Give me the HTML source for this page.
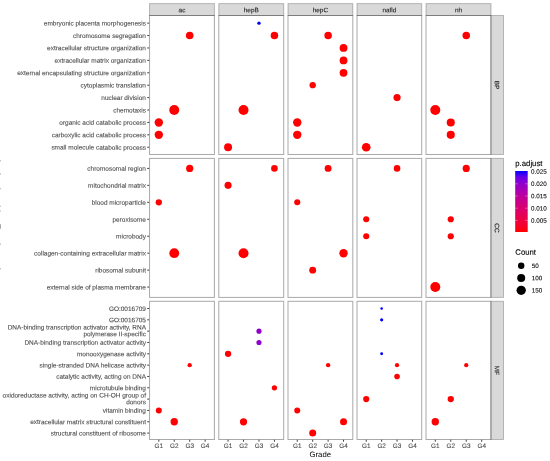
<!DOCTYPE html>
<html><head><meta charset="utf-8"><title>dotplot</title>
<style>html,body{margin:0;padding:0;background:#fff}svg{display:block}</style></head>
<body>
<svg width="550" height="461" viewBox="0 0 550 461" font-family="'Liberation Sans', sans-serif" text-rendering="geometricPrecision">
<rect width="550" height="461" fill="#fff"/>
<defs><filter id="soft" x="0" y="0" width="100%" height="100%" filterUnits="objectBoundingBox"><feGaussianBlur stdDeviation="0.3"/></filter></defs>
<g filter="url(#soft)">
<rect width="550" height="461" fill="#fff"/>
<rect x="149.55" y="3.6" width="64.85" height="11.90" fill="#d9d9d9" stroke="#333" stroke-opacity="0.30" stroke-width="1"/>
<text transform="translate(181.98,12.15) rotate(0.03)" font-size="6.4" fill="#1a1a1a" stroke="#1a1a1a" stroke-width="0.1" text-anchor="middle">ac</text>
<rect x="218.80" y="3.6" width="64.90" height="11.90" fill="#d9d9d9" stroke="#333" stroke-opacity="0.30" stroke-width="1"/>
<text transform="translate(251.25,12.15) rotate(0.03)" font-size="6.4" fill="#1a1a1a" stroke="#1a1a1a" stroke-width="0.1" text-anchor="middle">hepB</text>
<rect x="288.00" y="3.6" width="64.80" height="11.90" fill="#d9d9d9" stroke="#333" stroke-opacity="0.30" stroke-width="1"/>
<text transform="translate(320.40,12.15) rotate(0.03)" font-size="6.4" fill="#1a1a1a" stroke="#1a1a1a" stroke-width="0.1" text-anchor="middle">hepC</text>
<rect x="357.00" y="3.6" width="64.70" height="11.90" fill="#d9d9d9" stroke="#333" stroke-opacity="0.30" stroke-width="1"/>
<text transform="translate(389.35,12.15) rotate(0.03)" font-size="6.4" fill="#1a1a1a" stroke="#1a1a1a" stroke-width="0.1" text-anchor="middle">nafld</text>
<rect x="426.00" y="3.6" width="65.00" height="11.90" fill="#d9d9d9" stroke="#333" stroke-opacity="0.30" stroke-width="1"/>
<text transform="translate(458.50,12.15) rotate(0.03)" font-size="6.4" fill="#1a1a1a" stroke="#1a1a1a" stroke-width="0.1" text-anchor="middle">nh</text>
<rect x="149.55" y="15.5" width="64.85" height="139.00" fill="none" stroke="#333" stroke-opacity="0.42" stroke-width="1"/>
<rect x="218.80" y="15.5" width="64.90" height="139.00" fill="none" stroke="#333" stroke-opacity="0.42" stroke-width="1"/>
<rect x="288.00" y="15.5" width="64.80" height="139.00" fill="none" stroke="#333" stroke-opacity="0.42" stroke-width="1"/>
<rect x="357.00" y="15.5" width="64.70" height="139.00" fill="none" stroke="#333" stroke-opacity="0.42" stroke-width="1"/>
<rect x="426.00" y="15.5" width="65.00" height="139.00" fill="none" stroke="#333" stroke-opacity="0.42" stroke-width="1"/>
<rect x="491.0" y="15.5" width="12.50" height="139.00" fill="#d9d9d9" stroke="#333" stroke-opacity="0.30" stroke-width="1"/>
<line x1="491.1" x2="491.1" y1="15.5" y2="154.5" stroke="#333" stroke-opacity="0.28" stroke-width="0.9"/>
<text transform="translate(494.75,85.00) rotate(90.03)" font-size="6.4" fill="#1a1a1a" stroke="#1a1a1a" stroke-width="0.1" text-anchor="middle">BP</text>
<line x1="147.25" x2="149.15" y1="23.15" y2="23.15" stroke="#333333" stroke-width="0.95"/>
<text transform="translate(145.95,25.55) rotate(0.03)" font-size="6.47" fill="#4d4d4d" stroke="#4d4d4d" stroke-width="0.1" text-anchor="end">embryonic placenta morphogenesis</text>
<line x1="147.25" x2="149.15" y1="35.56" y2="35.56" stroke="#333333" stroke-width="0.95"/>
<text transform="translate(145.95,37.96) rotate(0.03)" font-size="6.47" fill="#4d4d4d" stroke="#4d4d4d" stroke-width="0.1" text-anchor="end">chromosome segregation</text>
<line x1="147.25" x2="149.15" y1="47.97" y2="47.97" stroke="#333333" stroke-width="0.95"/>
<text transform="translate(145.95,50.37) rotate(0.03)" font-size="6.47" fill="#4d4d4d" stroke="#4d4d4d" stroke-width="0.1" text-anchor="end">extracellular structure organization</text>
<line x1="147.25" x2="149.15" y1="60.38" y2="60.38" stroke="#333333" stroke-width="0.95"/>
<text transform="translate(145.95,62.78) rotate(0.03)" font-size="6.47" fill="#4d4d4d" stroke="#4d4d4d" stroke-width="0.1" text-anchor="end">extracellular matrix organization</text>
<line x1="147.25" x2="149.15" y1="72.79" y2="72.79" stroke="#333333" stroke-width="0.95"/>
<text transform="translate(145.95,75.19) rotate(0.03)" font-size="6.47" fill="#4d4d4d" stroke="#4d4d4d" stroke-width="0.1" text-anchor="end">external encapsulating structure organization</text>
<line x1="147.25" x2="149.15" y1="85.20" y2="85.20" stroke="#333333" stroke-width="0.95"/>
<text transform="translate(145.95,87.60) rotate(0.03)" font-size="6.47" fill="#4d4d4d" stroke="#4d4d4d" stroke-width="0.1" text-anchor="end">cytoplasmic translation</text>
<line x1="147.25" x2="149.15" y1="97.61" y2="97.61" stroke="#333333" stroke-width="0.95"/>
<text transform="translate(145.95,100.01) rotate(0.03)" font-size="6.47" fill="#4d4d4d" stroke="#4d4d4d" stroke-width="0.1" text-anchor="end">nuclear division</text>
<line x1="147.25" x2="149.15" y1="110.02" y2="110.02" stroke="#333333" stroke-width="0.95"/>
<text transform="translate(145.95,112.42) rotate(0.03)" font-size="6.47" fill="#4d4d4d" stroke="#4d4d4d" stroke-width="0.1" text-anchor="end">chemotaxis</text>
<line x1="147.25" x2="149.15" y1="122.43" y2="122.43" stroke="#333333" stroke-width="0.95"/>
<text transform="translate(145.95,124.83) rotate(0.03)" font-size="6.47" fill="#4d4d4d" stroke="#4d4d4d" stroke-width="0.1" text-anchor="end">organic acid catabolic process</text>
<line x1="147.25" x2="149.15" y1="134.84" y2="134.84" stroke="#333333" stroke-width="0.95"/>
<text transform="translate(145.95,137.24) rotate(0.03)" font-size="6.47" fill="#4d4d4d" stroke="#4d4d4d" stroke-width="0.1" text-anchor="end">carboxylic acid catabolic process</text>
<line x1="147.25" x2="149.15" y1="147.25" y2="147.25" stroke="#333333" stroke-width="0.95"/>
<text transform="translate(145.95,149.65) rotate(0.03)" font-size="6.47" fill="#4d4d4d" stroke="#4d4d4d" stroke-width="0.1" text-anchor="end">small molecule catabolic process</text>
<rect x="149.55" y="158.4" width="64.85" height="139.00" fill="none" stroke="#333" stroke-opacity="0.42" stroke-width="1"/>
<rect x="218.80" y="158.4" width="64.90" height="139.00" fill="none" stroke="#333" stroke-opacity="0.42" stroke-width="1"/>
<rect x="288.00" y="158.4" width="64.80" height="139.00" fill="none" stroke="#333" stroke-opacity="0.42" stroke-width="1"/>
<rect x="357.00" y="158.4" width="64.70" height="139.00" fill="none" stroke="#333" stroke-opacity="0.42" stroke-width="1"/>
<rect x="426.00" y="158.4" width="65.00" height="139.00" fill="none" stroke="#333" stroke-opacity="0.42" stroke-width="1"/>
<rect x="491.0" y="158.4" width="12.50" height="139.00" fill="#d9d9d9" stroke="#333" stroke-opacity="0.30" stroke-width="1"/>
<line x1="491.1" x2="491.1" y1="158.4" y2="297.4" stroke="#333" stroke-opacity="0.28" stroke-width="0.9"/>
<text transform="translate(494.75,227.90) rotate(90.03)" font-size="6.4" fill="#1a1a1a" stroke="#1a1a1a" stroke-width="0.1" text-anchor="middle">CC</text>
<line x1="147.25" x2="149.15" y1="168.42" y2="168.42" stroke="#333333" stroke-width="0.95"/>
<text transform="translate(145.95,170.82) rotate(0.03)" font-size="6.47" fill="#4d4d4d" stroke="#4d4d4d" stroke-width="0.1" text-anchor="end">chromosomal region</text>
<line x1="147.25" x2="149.15" y1="185.37" y2="185.37" stroke="#333333" stroke-width="0.95"/>
<text transform="translate(145.95,187.77) rotate(0.03)" font-size="6.47" fill="#4d4d4d" stroke="#4d4d4d" stroke-width="0.1" text-anchor="end">mitochondrial matrix</text>
<line x1="147.25" x2="149.15" y1="202.32" y2="202.32" stroke="#333333" stroke-width="0.95"/>
<text transform="translate(145.95,204.72) rotate(0.03)" font-size="6.47" fill="#4d4d4d" stroke="#4d4d4d" stroke-width="0.1" text-anchor="end">blood microparticle</text>
<line x1="147.25" x2="149.15" y1="219.27" y2="219.27" stroke="#333333" stroke-width="0.95"/>
<text transform="translate(145.95,221.67) rotate(0.03)" font-size="6.47" fill="#4d4d4d" stroke="#4d4d4d" stroke-width="0.1" text-anchor="end">peroxisome</text>
<line x1="147.25" x2="149.15" y1="236.23" y2="236.23" stroke="#333333" stroke-width="0.95"/>
<text transform="translate(145.95,238.63) rotate(0.03)" font-size="6.47" fill="#4d4d4d" stroke="#4d4d4d" stroke-width="0.1" text-anchor="end">microbody</text>
<line x1="147.25" x2="149.15" y1="253.18" y2="253.18" stroke="#333333" stroke-width="0.95"/>
<text transform="translate(145.95,255.58) rotate(0.03)" font-size="6.47" fill="#4d4d4d" stroke="#4d4d4d" stroke-width="0.1" text-anchor="end">collagen-containing extracellular matrix</text>
<line x1="147.25" x2="149.15" y1="270.13" y2="270.13" stroke="#333333" stroke-width="0.95"/>
<text transform="translate(145.95,272.53) rotate(0.03)" font-size="6.47" fill="#4d4d4d" stroke="#4d4d4d" stroke-width="0.1" text-anchor="end">ribosomal subunit</text>
<line x1="147.25" x2="149.15" y1="287.08" y2="287.08" stroke="#333333" stroke-width="0.95"/>
<text transform="translate(145.95,289.48) rotate(0.03)" font-size="6.47" fill="#4d4d4d" stroke="#4d4d4d" stroke-width="0.1" text-anchor="end">external side of plasma membrane</text>
<rect x="149.55" y="301.3" width="64.85" height="138.20" fill="none" stroke="#333" stroke-opacity="0.42" stroke-width="1"/>
<rect x="218.80" y="301.3" width="64.90" height="138.20" fill="none" stroke="#333" stroke-opacity="0.42" stroke-width="1"/>
<rect x="288.00" y="301.3" width="64.80" height="138.20" fill="none" stroke="#333" stroke-opacity="0.42" stroke-width="1"/>
<rect x="357.00" y="301.3" width="64.70" height="138.20" fill="none" stroke="#333" stroke-opacity="0.42" stroke-width="1"/>
<rect x="426.00" y="301.3" width="65.00" height="138.20" fill="none" stroke="#333" stroke-opacity="0.42" stroke-width="1"/>
<rect x="491.0" y="301.3" width="12.50" height="138.20" fill="#d9d9d9" stroke="#333" stroke-opacity="0.30" stroke-width="1"/>
<line x1="491.1" x2="491.1" y1="301.3" y2="439.5" stroke="#333" stroke-opacity="0.28" stroke-width="0.9"/>
<text transform="translate(494.75,370.40) rotate(90.03)" font-size="6.4" fill="#1a1a1a" stroke="#1a1a1a" stroke-width="0.1" text-anchor="middle">MF</text>
<line x1="147.25" x2="149.15" y1="308.50" y2="308.50" stroke="#333333" stroke-width="0.95"/>
<text transform="translate(145.95,310.90) rotate(0.03)" font-size="6.47" fill="#4d4d4d" stroke="#4d4d4d" stroke-width="0.1" text-anchor="end">GO:0016709</text>
<line x1="147.25" x2="149.15" y1="319.82" y2="319.82" stroke="#333333" stroke-width="0.95"/>
<text transform="translate(145.95,322.22) rotate(0.03)" font-size="6.47" fill="#4d4d4d" stroke="#4d4d4d" stroke-width="0.1" text-anchor="end">GO:0016705</text>
<line x1="147.25" x2="149.15" y1="331.15" y2="331.15" stroke="#333333" stroke-width="0.95"/>
<text transform="translate(145.95,329.50) rotate(0.03)" font-size="6.47" fill="#4d4d4d" stroke="#4d4d4d" stroke-width="0.1" text-anchor="end">DNA-binding transcription activator activity, RNA</text>
<text transform="translate(145.95,336.30) rotate(0.03)" font-size="6.47" fill="#4d4d4d" stroke="#4d4d4d" stroke-width="0.1" text-anchor="end">polymerase II-specific</text>
<line x1="147.25" x2="149.15" y1="342.48" y2="342.48" stroke="#333333" stroke-width="0.95"/>
<text transform="translate(145.95,344.88) rotate(0.03)" font-size="6.47" fill="#4d4d4d" stroke="#4d4d4d" stroke-width="0.1" text-anchor="end">DNA-binding transcription activator activity</text>
<line x1="147.25" x2="149.15" y1="353.81" y2="353.81" stroke="#333333" stroke-width="0.95"/>
<text transform="translate(145.95,356.21) rotate(0.03)" font-size="6.47" fill="#4d4d4d" stroke="#4d4d4d" stroke-width="0.1" text-anchor="end">monooxygenase activity</text>
<line x1="147.25" x2="149.15" y1="365.14" y2="365.14" stroke="#333333" stroke-width="0.95"/>
<text transform="translate(145.95,367.54) rotate(0.03)" font-size="6.47" fill="#4d4d4d" stroke="#4d4d4d" stroke-width="0.1" text-anchor="end">single-stranded DNA helicase activity</text>
<line x1="147.25" x2="149.15" y1="376.46" y2="376.46" stroke="#333333" stroke-width="0.95"/>
<text transform="translate(145.95,378.86) rotate(0.03)" font-size="6.47" fill="#4d4d4d" stroke="#4d4d4d" stroke-width="0.1" text-anchor="end">catalytic activity, acting on DNA</text>
<line x1="147.25" x2="149.15" y1="387.79" y2="387.79" stroke="#333333" stroke-width="0.95"/>
<text transform="translate(145.95,390.19) rotate(0.03)" font-size="6.47" fill="#4d4d4d" stroke="#4d4d4d" stroke-width="0.1" text-anchor="end">microtubule binding</text>
<line x1="147.25" x2="149.15" y1="399.12" y2="399.12" stroke="#333333" stroke-width="0.95"/>
<text transform="translate(145.95,397.47) rotate(0.03)" font-size="6.47" fill="#4d4d4d" stroke="#4d4d4d" stroke-width="0.1" text-anchor="end">oxidoreductase activity, acting on CH-OH group of</text>
<text transform="translate(145.95,404.27) rotate(0.03)" font-size="6.47" fill="#4d4d4d" stroke="#4d4d4d" stroke-width="0.1" text-anchor="end">donors</text>
<line x1="147.25" x2="149.15" y1="410.45" y2="410.45" stroke="#333333" stroke-width="0.95"/>
<text transform="translate(145.95,412.85) rotate(0.03)" font-size="6.47" fill="#4d4d4d" stroke="#4d4d4d" stroke-width="0.1" text-anchor="end">vitamin binding</text>
<line x1="147.25" x2="149.15" y1="421.78" y2="421.78" stroke="#333333" stroke-width="0.95"/>
<text transform="translate(145.95,424.18) rotate(0.03)" font-size="6.47" fill="#4d4d4d" stroke="#4d4d4d" stroke-width="0.1" text-anchor="end">extracellular matrix structural constituent</text>
<line x1="147.25" x2="149.15" y1="433.10" y2="433.10" stroke="#333333" stroke-width="0.95"/>
<text transform="translate(145.95,435.50) rotate(0.03)" font-size="6.47" fill="#4d4d4d" stroke="#4d4d4d" stroke-width="0.1" text-anchor="end">structural constituent of ribosome</text>
<line x1="158.81" x2="158.81" y1="439.80" y2="441.70" stroke="#333333" stroke-width="0.95"/>
<text transform="translate(158.81,448.0) rotate(0.03)" font-size="6.4" fill="#4d4d4d" stroke="#4d4d4d" stroke-width="0.1" text-anchor="middle">G1</text>
<line x1="174.25" x2="174.25" y1="439.80" y2="441.70" stroke="#333333" stroke-width="0.95"/>
<text transform="translate(174.25,448.0) rotate(0.03)" font-size="6.4" fill="#4d4d4d" stroke="#4d4d4d" stroke-width="0.1" text-anchor="middle">G2</text>
<line x1="189.70" x2="189.70" y1="439.80" y2="441.70" stroke="#333333" stroke-width="0.95"/>
<text transform="translate(189.70,448.0) rotate(0.03)" font-size="6.4" fill="#4d4d4d" stroke="#4d4d4d" stroke-width="0.1" text-anchor="middle">G3</text>
<line x1="205.14" x2="205.14" y1="439.80" y2="441.70" stroke="#333333" stroke-width="0.95"/>
<text transform="translate(205.14,448.0) rotate(0.03)" font-size="6.4" fill="#4d4d4d" stroke="#4d4d4d" stroke-width="0.1" text-anchor="middle">G4</text>
<line x1="228.07" x2="228.07" y1="439.80" y2="441.70" stroke="#333333" stroke-width="0.95"/>
<text transform="translate(228.07,448.0) rotate(0.03)" font-size="6.4" fill="#4d4d4d" stroke="#4d4d4d" stroke-width="0.1" text-anchor="middle">G1</text>
<line x1="243.52" x2="243.52" y1="439.80" y2="441.70" stroke="#333333" stroke-width="0.95"/>
<text transform="translate(243.52,448.0) rotate(0.03)" font-size="6.4" fill="#4d4d4d" stroke="#4d4d4d" stroke-width="0.1" text-anchor="middle">G2</text>
<line x1="258.98" x2="258.98" y1="439.80" y2="441.70" stroke="#333333" stroke-width="0.95"/>
<text transform="translate(258.98,448.0) rotate(0.03)" font-size="6.4" fill="#4d4d4d" stroke="#4d4d4d" stroke-width="0.1" text-anchor="middle">G3</text>
<line x1="274.43" x2="274.43" y1="439.80" y2="441.70" stroke="#333333" stroke-width="0.95"/>
<text transform="translate(274.43,448.0) rotate(0.03)" font-size="6.4" fill="#4d4d4d" stroke="#4d4d4d" stroke-width="0.1" text-anchor="middle">G4</text>
<line x1="297.26" x2="297.26" y1="439.80" y2="441.70" stroke="#333333" stroke-width="0.95"/>
<text transform="translate(297.26,448.0) rotate(0.03)" font-size="6.4" fill="#4d4d4d" stroke="#4d4d4d" stroke-width="0.1" text-anchor="middle">G1</text>
<line x1="312.69" x2="312.69" y1="439.80" y2="441.70" stroke="#333333" stroke-width="0.95"/>
<text transform="translate(312.69,448.0) rotate(0.03)" font-size="6.4" fill="#4d4d4d" stroke="#4d4d4d" stroke-width="0.1" text-anchor="middle">G2</text>
<line x1="328.11" x2="328.11" y1="439.80" y2="441.70" stroke="#333333" stroke-width="0.95"/>
<text transform="translate(328.11,448.0) rotate(0.03)" font-size="6.4" fill="#4d4d4d" stroke="#4d4d4d" stroke-width="0.1" text-anchor="middle">G3</text>
<line x1="343.54" x2="343.54" y1="439.80" y2="441.70" stroke="#333333" stroke-width="0.95"/>
<text transform="translate(343.54,448.0) rotate(0.03)" font-size="6.4" fill="#4d4d4d" stroke="#4d4d4d" stroke-width="0.1" text-anchor="middle">G4</text>
<line x1="366.24" x2="366.24" y1="439.80" y2="441.70" stroke="#333333" stroke-width="0.95"/>
<text transform="translate(366.24,448.0) rotate(0.03)" font-size="6.4" fill="#4d4d4d" stroke="#4d4d4d" stroke-width="0.1" text-anchor="middle">G1</text>
<line x1="381.65" x2="381.65" y1="439.80" y2="441.70" stroke="#333333" stroke-width="0.95"/>
<text transform="translate(381.65,448.0) rotate(0.03)" font-size="6.4" fill="#4d4d4d" stroke="#4d4d4d" stroke-width="0.1" text-anchor="middle">G2</text>
<line x1="397.05" x2="397.05" y1="439.80" y2="441.70" stroke="#333333" stroke-width="0.95"/>
<text transform="translate(397.05,448.0) rotate(0.03)" font-size="6.4" fill="#4d4d4d" stroke="#4d4d4d" stroke-width="0.1" text-anchor="middle">G3</text>
<line x1="412.46" x2="412.46" y1="439.80" y2="441.70" stroke="#333333" stroke-width="0.95"/>
<text transform="translate(412.46,448.0) rotate(0.03)" font-size="6.4" fill="#4d4d4d" stroke="#4d4d4d" stroke-width="0.1" text-anchor="middle">G4</text>
<line x1="435.29" x2="435.29" y1="439.80" y2="441.70" stroke="#333333" stroke-width="0.95"/>
<text transform="translate(435.29,448.0) rotate(0.03)" font-size="6.4" fill="#4d4d4d" stroke="#4d4d4d" stroke-width="0.1" text-anchor="middle">G1</text>
<line x1="450.76" x2="450.76" y1="439.80" y2="441.70" stroke="#333333" stroke-width="0.95"/>
<text transform="translate(450.76,448.0) rotate(0.03)" font-size="6.4" fill="#4d4d4d" stroke="#4d4d4d" stroke-width="0.1" text-anchor="middle">G2</text>
<line x1="466.24" x2="466.24" y1="439.80" y2="441.70" stroke="#333333" stroke-width="0.95"/>
<text transform="translate(466.24,448.0) rotate(0.03)" font-size="6.4" fill="#4d4d4d" stroke="#4d4d4d" stroke-width="0.1" text-anchor="middle">G3</text>
<line x1="481.71" x2="481.71" y1="439.80" y2="441.70" stroke="#333333" stroke-width="0.95"/>
<text transform="translate(481.71,448.0) rotate(0.03)" font-size="6.4" fill="#4d4d4d" stroke="#4d4d4d" stroke-width="0.1" text-anchor="middle">G4</text>
<text transform="translate(320.27,457) rotate(0.03)" font-size="7.75" fill="#000" text-anchor="middle">Grade</text>
<circle cx="258.98" cy="23.15" r="1.70" fill="#0000ff"/>
<circle cx="189.70" cy="35.56" r="3.80" fill="#ff0000"/>
<circle cx="274.43" cy="35.56" r="3.75" fill="#ff0000"/>
<circle cx="328.11" cy="35.56" r="3.75" fill="#ff0000"/>
<circle cx="466.24" cy="35.56" r="3.75" fill="#ff0000"/>
<circle cx="343.54" cy="47.97" r="3.90" fill="#ff0000"/>
<circle cx="343.54" cy="60.38" r="3.90" fill="#ff0000"/>
<circle cx="343.54" cy="72.79" r="3.90" fill="#ff0000"/>
<circle cx="312.69" cy="85.20" r="3.15" fill="#ff0000"/>
<circle cx="397.05" cy="97.61" r="3.60" fill="#ff0000"/>
<circle cx="174.25" cy="110.02" r="5.00" fill="#ff0000"/>
<circle cx="243.52" cy="110.02" r="5.00" fill="#ff0000"/>
<circle cx="435.29" cy="110.02" r="5.00" fill="#ff0000"/>
<circle cx="158.81" cy="122.43" r="4.20" fill="#ff0000"/>
<circle cx="297.26" cy="122.43" r="4.20" fill="#ff0000"/>
<circle cx="450.76" cy="122.43" r="4.05" fill="#ff0000"/>
<circle cx="158.81" cy="134.84" r="4.20" fill="#ff0000"/>
<circle cx="297.26" cy="134.84" r="4.20" fill="#ff0000"/>
<circle cx="450.76" cy="134.84" r="4.05" fill="#ff0000"/>
<circle cx="228.07" cy="147.25" r="4.00" fill="#ff0000"/>
<circle cx="366.24" cy="147.25" r="4.35" fill="#ff0000"/>
<circle cx="189.70" cy="168.42" r="3.60" fill="#ff0000"/>
<circle cx="274.43" cy="168.42" r="3.30" fill="#ff0000"/>
<circle cx="328.11" cy="168.42" r="3.45" fill="#ff0000"/>
<circle cx="397.05" cy="168.42" r="3.30" fill="#ff0000"/>
<circle cx="466.24" cy="168.42" r="3.60" fill="#ff0000"/>
<circle cx="228.07" cy="185.37" r="3.55" fill="#ff0000"/>
<circle cx="158.81" cy="202.32" r="3.15" fill="#ff0000"/>
<circle cx="297.26" cy="202.32" r="3.05" fill="#ff0000"/>
<circle cx="366.24" cy="219.27" r="3.05" fill="#ff0000"/>
<circle cx="450.76" cy="219.27" r="3.10" fill="#ff0000"/>
<circle cx="366.24" cy="236.23" r="3.05" fill="#ff0000"/>
<circle cx="450.76" cy="236.23" r="3.10" fill="#ff0000"/>
<circle cx="174.25" cy="253.18" r="4.90" fill="#ff0000"/>
<circle cx="243.52" cy="253.18" r="5.00" fill="#ff0000"/>
<circle cx="343.54" cy="253.18" r="4.20" fill="#ff0000"/>
<circle cx="312.69" cy="270.13" r="3.45" fill="#ff0000"/>
<circle cx="435.29" cy="287.08" r="5.00" fill="#ff0000"/>
<circle cx="381.65" cy="308.50" r="1.30" fill="#0000ff"/>
<circle cx="381.65" cy="319.82" r="1.60" fill="#0000ff"/>
<circle cx="258.98" cy="331.15" r="2.55" fill="#8d00ce"/>
<circle cx="258.98" cy="342.48" r="2.55" fill="#8d00ce"/>
<circle cx="228.07" cy="353.81" r="3.15" fill="#ff0000"/>
<circle cx="381.65" cy="353.81" r="1.45" fill="#0000ff"/>
<circle cx="189.70" cy="365.14" r="2.15" fill="#ff0000"/>
<circle cx="328.11" cy="365.14" r="2.15" fill="#ff0000"/>
<circle cx="397.05" cy="365.14" r="2.10" fill="#ff0000"/>
<circle cx="466.24" cy="365.14" r="2.10" fill="#ff0000"/>
<circle cx="397.05" cy="376.46" r="2.80" fill="#ff0000"/>
<circle cx="274.43" cy="387.79" r="2.65" fill="#ff0000"/>
<circle cx="366.24" cy="399.12" r="3.10" fill="#ff0000"/>
<circle cx="450.76" cy="399.12" r="3.15" fill="#ff0000"/>
<circle cx="158.81" cy="410.45" r="3.00" fill="#ff0000"/>
<circle cx="297.26" cy="410.45" r="3.00" fill="#ff0000"/>
<circle cx="174.25" cy="421.78" r="3.70" fill="#ff0000"/>
<circle cx="243.52" cy="421.78" r="3.60" fill="#ff0000"/>
<circle cx="343.54" cy="421.78" r="3.50" fill="#ff0000"/>
<circle cx="435.29" cy="421.78" r="3.70" fill="#ff0000"/>
<circle cx="312.69" cy="433.10" r="3.50" fill="#ff0000"/>
<rect x="0" y="160.00" width="1" height="1.4" fill="#c4c4c4"/>
<rect x="0" y="173.30" width="1" height="1.4" fill="#b8b8b8"/>
<rect x="0" y="187.90" width="1" height="1.4" fill="#c4c4c4"/>
<rect x="0" y="205.70" width="1" height="1.2" fill="#c4c4c4"/>
<rect x="0" y="210.40" width="1" height="1.2" fill="#c4c4c4"/>
<rect x="0" y="224.25" width="1" height="4.5" fill="#a8a8a8"/>
<rect x="0" y="243.50" width="1" height="1.4" fill="#c0c0c0"/>
<rect x="0" y="268.00" width="1" height="1.4" fill="#c0c0c0"/>
<defs><linearGradient id="cb" x1="0" y1="0" x2="0" y2="1"><stop offset="0.0" stop-color="#0000ff"/><stop offset="0.1" stop-color="#6800e7"/><stop offset="0.2" stop-color="#8d00ce"/><stop offset="0.3" stop-color="#a600b7"/><stop offset="0.4" stop-color="#ba009f"/><stop offset="0.5" stop-color="#ca0088"/><stop offset="0.6" stop-color="#d70072"/><stop offset="0.7" stop-color="#e3005b"/><stop offset="0.8" stop-color="#ed0044"/><stop offset="0.9" stop-color="#f6002a"/><stop offset="1.0" stop-color="#ff0000"/></linearGradient></defs>
<text transform="translate(515.3,166.0) rotate(0.03)" font-size="7.75" fill="#000" stroke="#000" stroke-width="0.12">p.adjust</text>
<rect x="515.2" y="171" width="12.5" height="61" fill="url(#cb)"/>
<text transform="translate(531,173.85) rotate(0.03)" font-size="6.3" fill="#000" stroke="#000" stroke-width="0.08">0.025</text>
<line x1="515.2" x2="517.7" y1="183.80" y2="183.80" stroke="#fff" stroke-width="0.5" stroke-opacity="0.7"/>
<line x1="525.2" x2="527.7" y1="183.80" y2="183.80" stroke="#fff" stroke-width="0.5" stroke-opacity="0.7"/>
<text transform="translate(531,186.05) rotate(0.03)" font-size="6.3" fill="#000" stroke="#000" stroke-width="0.08">0.020</text>
<line x1="515.2" x2="517.7" y1="196.00" y2="196.00" stroke="#fff" stroke-width="0.5" stroke-opacity="0.7"/>
<line x1="525.2" x2="527.7" y1="196.00" y2="196.00" stroke="#fff" stroke-width="0.5" stroke-opacity="0.7"/>
<text transform="translate(531,198.25) rotate(0.03)" font-size="6.3" fill="#000" stroke="#000" stroke-width="0.08">0.015</text>
<line x1="515.2" x2="517.7" y1="208.20" y2="208.20" stroke="#fff" stroke-width="0.5" stroke-opacity="0.7"/>
<line x1="525.2" x2="527.7" y1="208.20" y2="208.20" stroke="#fff" stroke-width="0.5" stroke-opacity="0.7"/>
<text transform="translate(531,210.45) rotate(0.03)" font-size="6.3" fill="#000" stroke="#000" stroke-width="0.08">0.010</text>
<line x1="515.2" x2="517.7" y1="220.40" y2="220.40" stroke="#fff" stroke-width="0.5" stroke-opacity="0.7"/>
<line x1="525.2" x2="527.7" y1="220.40" y2="220.40" stroke="#fff" stroke-width="0.5" stroke-opacity="0.7"/>
<text transform="translate(531,222.65) rotate(0.03)" font-size="6.3" fill="#000" stroke="#000" stroke-width="0.08">0.005</text>
<text transform="translate(515.3,254.8) rotate(0.03)" font-size="7.75" fill="#000" stroke="#000" stroke-width="0.12">Count</text>
<circle cx="521.2" cy="265.7" r="3.20" fill="#000"/>
<text transform="translate(531.8,267.95) rotate(0.03)" font-size="6.3" fill="#000" stroke="#000" stroke-width="0.08">50</text>
<circle cx="521.2" cy="277.9" r="4.00" fill="#000"/>
<text transform="translate(531.8,280.15) rotate(0.03)" font-size="6.3" fill="#000" stroke="#000" stroke-width="0.08">100</text>
<circle cx="521.2" cy="290.3" r="4.65" fill="#000"/>
<text transform="translate(531.8,292.55) rotate(0.03)" font-size="6.3" fill="#000" stroke="#000" stroke-width="0.08">150</text>
</g>
</svg>
</body></html>
